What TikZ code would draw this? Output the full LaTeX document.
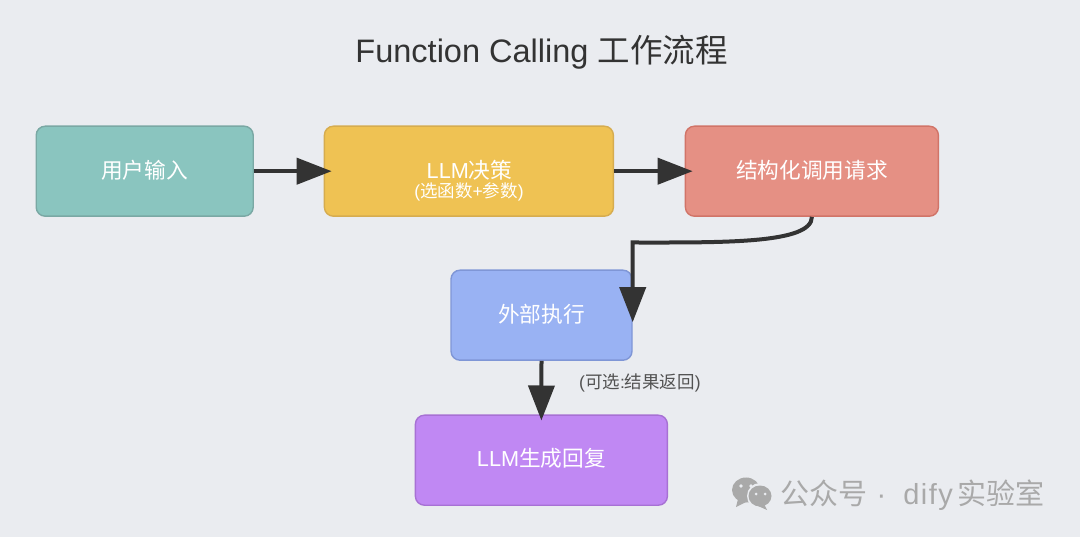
\documentclass[tikz,border=0pt]{standalone}
\usepackage{fontspec}
\setmainfont{Liberation Sans}
\newfontfamily\cjk{Noto Sans CJK SC}
\newfontfamily\wide{Liberation Sans}[LetterSpace=5]
\usetikzlibrary{arrows.meta,calc}
\definecolor{bgc}{HTML}{EAECF0}
\definecolor{inkc}{HTML}{333333}
\definecolor{wmc}{HTML}{A9A9A9}
\definecolor{tealf}{HTML}{8AC5BF}\definecolor{teald}{HTML}{7AA8A4}
\definecolor{yelf}{HTML}{EFC253}\definecolor{yeld}{HTML}{D6AC4F}
\definecolor{redf}{HTML}{E59084}\definecolor{redd}{HTML}{D17468}
\definecolor{bluef}{HTML}{99B2F3}\definecolor{blued}{HTML}{7F96D6}
\definecolor{purf}{HTML}{C088F3}\definecolor{purd}{HTML}{A771D4}
\tikzset{
  px/.style={x=1pt,y=-1pt},
  box/.style={line width=1.4pt,rounded corners=9pt,inner sep=0pt,anchor=north west,minimum height=90pt},
  lab/.style={text=white,inner sep=0pt,font=\fontsize{21.7}{24}\selectfont},
  flow/.style={draw=inkc,line width=4pt,miter limit=10,-{Triangle[length=35pt,width=26pt,fill=inkc]}},
  wm/.style={text=wmc,font=\fontsize{29}{32}\selectfont,inner sep=0pt,anchor=west}
}
\begin{document}
\begin{tikzpicture}[px]
\useasboundingbox (0,0) rectangle (1080,537);
\fill[bgc] (0,0) rectangle (1080,537);
\node[text=inkc,font=\fontsize{32.5}{36}\selectfont,inner sep=0pt] (title) at (541.5,52) {Function Calling {\cjk 工作流程}};
\node[box,draw=teald,fill=tealf,minimum width=217pt] (a) at (35.5,125.5) {};
\node[box,draw=yeld,fill=yelf,minimum width=289pt] (b) at (323.7,125.5) {};
\node[box,draw=redd,fill=redf,minimum width=253pt] (c) at (684.7,125.5) {};
\node[box,draw=blued,fill=bluef,minimum width=181pt] (d) at (450.3,269.5) {};
\node[box,draw=purd,fill=purf,minimum width=252pt] (e) at (414.7,414.5) {};
\node[lab] (at) at (144.5,170) {\cjk 用户输入};
\node[lab] (b1) at (469.5,170) {LLM{\cjk 决策}};
\node[lab,font=\fontsize{17.5}{20}\selectfont] (b2) at (469,192) {({\cjk 选函数}+{\cjk 参数})};
\node[lab] (ct) at (812,170) {\cjk 结构化调用请求};
\node[lab] (dt) at (541.5,314) {\cjk 外部执行};
\node[lab] (et) at (541.5,458.5) {LLM{\cjk 生成回复}};
\node[text=inkc!85,inner sep=0pt,font=\fontsize{17.5}{20}\selectfont] (opt) at (640,382.5) {({\cjk 可选}:{\cjk 结果返回})};
\draw[flow] (a.east) -- ([xshift=8pt]b.west);
\draw[flow] (b.east) -- ([xshift=8pt]c.west);
\draw[flow,rounded corners=0pt] (c.south) .. controls ($(c.south)+(0,27)$) and ($(d.north east)+(90,-27)$) .. ($(d.north east)+(0,-27)$) -- ($(d.east)+(0,7)$);
\draw[flow] (d.south) -- ([yshift=-6pt]e.north);
% watermark
\fill[wmc] (746,490) circle[x radius=14pt,y radius=12.5pt];
\fill[wmc] (738,499) -- (736,507) -- (746,502) -- cycle;
\fill[bgc] (760,496) circle[radius=13pt];
\fill[wmc] (760,496) circle[x radius=11.5pt,y radius=10.5pt];
\fill[wmc] (764,504) -- (767,510) -- (758,506) -- cycle;
\fill[bgc] (741,486) circle[radius=1.8pt] (751,486) circle[radius=1.8pt] (756,494) circle[radius=1.5pt] (765,494) circle[radius=1.5pt];
\node[wm] (wm) at (780.5,495.5) {{\cjk 公众号}\hspace{9pt}·\hspace{17pt}{\wide dify}\hspace{5pt}{\cjk 实验室}};
\end{tikzpicture}
\end{document}
